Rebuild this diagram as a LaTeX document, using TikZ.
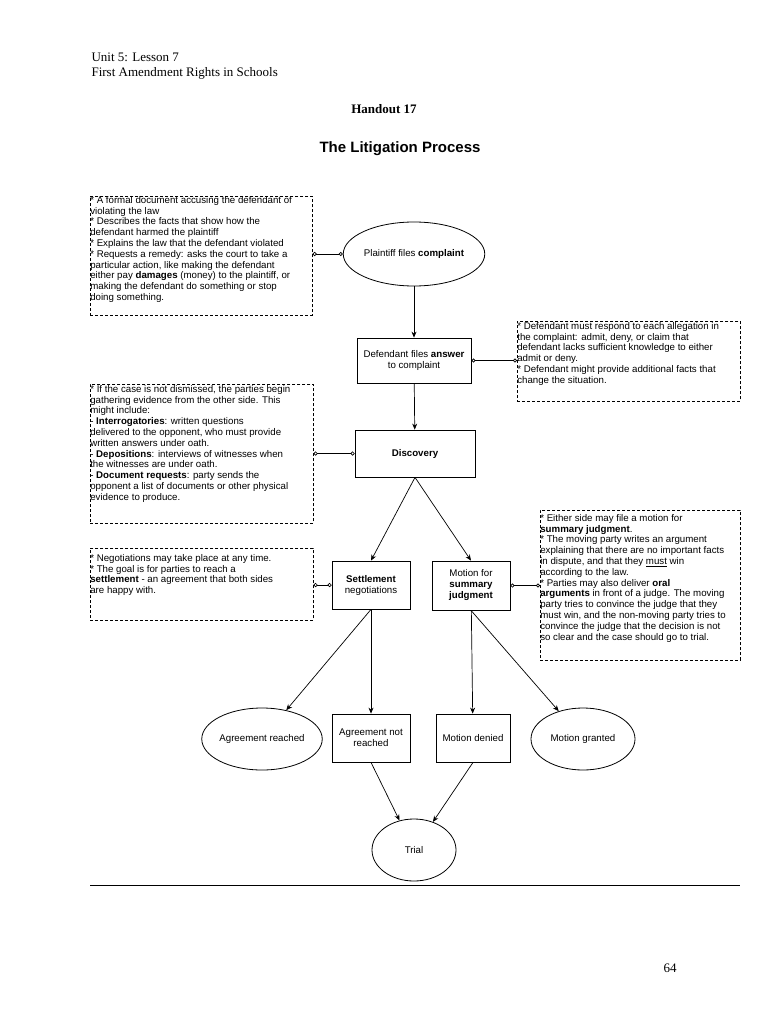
\documentclass[tikz,border=0pt]{standalone}
\usepackage{fontspec}
\setmainfont{Liberation Serif}
\newfontfamily\dsans{Liberation Sans}
\usetikzlibrary{shapes.geometric,arrows.meta}
\newcommand\nl{\newline}
\begin{document}
\begin{tikzpicture}[x=1pt,y=-1pt,
  note/.style={draw,densely dashed,line width=0.6pt,anchor=north west,align=left,inner sep=0pt,font=\dsans\fontsize{9.7}{10.8}\selectfont},
  box/.style={draw,line width=0.8pt,align=center,font=\dsans\fontsize{9.7}{11}\selectfont},
  ell/.style={draw,ellipse,line width=0.8pt,align=center,inner sep=0pt,font=\dsans\fontsize{9.7}{11}\selectfont},
  arr/.style={-{Stealth[length=6pt,width=5pt]},line width=0.7pt},
  link/.style={{Circle[open,length=4pt]}-{Circle[open,length=4pt]},line width=0.7pt}]
\useasboundingbox (0,0) rectangle (768,1024);
\node[anchor=west,font=\fontsize{13}{15}\selectfont] (h1) at (88,57) {Unit 5: Lesson 7};
\node[anchor=west,font=\fontsize{13}{15}\selectfont] (h2) at (88,73) {First Amendment Rights in Schools};
\node[font=\bfseries\fontsize{13}{15}\selectfont] (h3) at (384,109) {Handout 17};
\node[font=\dsans\bfseries\fontsize{15}{18}\selectfont] (h4) at (400,149) {The Litigation Process};

% notes
\node[note] (n1) at (90,196) {\parbox[t][119pt][t]{222pt}{\vspace{0pt}* A formal document accusing the defendant of\nl violating the law\nl{}* Describes the facts that show how the\nl defendant harmed the plaintiff\nl{}* Explains the law that the defendant violated\nl{}* Requests a remedy: asks the court to take a\nl particular action, like making the defendant\nl either pay \textbf{damages} (money) to the plaintiff, or\nl making the defendant do something or stop\nl doing something.}};
\node[note] (n2) at (517,321) {\parbox[t][80pt][t]{223pt}{\vspace{1pt}* Defendant must respond to each allegation in\nl the complaint: admit, deny, or claim that\nl defendant lacks sufficient knowledge to either\nl admit or deny.\nl{}* Defendant might provide additional facts that\nl change the situation.}};
\node[note] (n3) at (90,384) {\parbox[t][139pt][t]{223pt}{\vspace{1pt}* If the case is not dismissed, the parties begin\nl gathering evidence from the other side. This\nl might include:\nl{}- \textbf{Interrogatories}: written questions\nl delivered to the opponent, who must provide\nl written answers under oath.\nl{}- \textbf{Depositions}: interviews of witnesses when\nl the witnesses are under oath.\nl{}- \textbf{Document requests}: party sends the\nl opponent a list of documents or other physical\nl evidence to produce.}};
\node[note] (n4) at (90,548) {\parbox[t][72pt][t]{223pt}{\vspace{6pt}* Negotiations may take place at any time.\nl{}* The goal is for parties to reach a\nl\textbf{settlement} - an agreement that both sides\nl are happy with.}};
\node[note] (n5) at (540,510) {\parbox[t][150pt][t]{200pt}{\vspace{4pt}* Either side may file a motion for\nl\textbf{summary judgment}.\nl{}* The moving party writes an argument\nl explaining that there are no important facts\nl in dispute, and that they \underline{must} win\nl according to the law.\nl{}* Parties may also deliver \textbf{oral}\nl\textbf{arguments} in front of a judge. The moving\nl party tries to convince the judge that they\nl must win, and the non-moving party tries to\nl convince the judge that the decision is not\nl so clear and the case should go to trial.}};

% flow
\node[ell,minimum width=116pt,minimum height=64pt] (c) at (414,254) {Plaintiff files \textbf{complaint}};
\node[box,minimum width=114pt,minimum height=45pt] (a) at (414,360.5) {Defendant files \textbf{answer}\\to complaint};
\node[box,minimum width=120pt,minimum height=47pt] (d) at (415,453.5) {\textbf{Discovery}};
\node[box,minimum width=78pt,minimum height=48pt] (s) at (371,585) {\textbf{Settlement}\\negotiations};
\node[box,minimum width=78pt,minimum height=49pt] (m) at (471,585.5) {Motion for\\\textbf{summary}\\\textbf{judgment}};
\node[ell,minimum width=104pt,minimum height=62pt] (ar) at (262,739) {Agreement reached};
\node[box,minimum width=78pt,minimum height=48pt] (anr) at (371,738) {Agreement not\\reached};
\node[box,minimum width=74pt,minimum height=48pt] (md) at (473,738) {Motion denied};
\node[ell,minimum width=104pt,minimum height=62pt] (mg) at (583,739) {Motion granted};
\node[ell,minimum width=84pt,minimum height=62pt] (t) at (414,850) {Trial};

\draw[arr] (c) -- (a);
\draw[arr] (a) -- (d);
\draw[arr] (d.south) -- (s.north);
\draw[arr] (d.south) -- (m.north);
\draw[arr] (s.south) -- (ar);
\draw[arr] (s) -- (anr);
\draw[arr] (m) -- (md);
\draw[arr] (m.south) -- (mg);
\draw[arr] (anr.south) -- (t);
\draw[arr] (md.south) -- (t);

\draw[link] (n1.east |- c.west) -- (c.west);
\draw[link] (a.east) -- (n2.west |- a.east);
\draw[link] (n3.east |- d.west) -- (d.west);
\draw[link] (n4.east |- s.west) -- (s.west);
\draw[link] (m.east) -- (n5.west |- m.east);

\coordinate (l1) at (90,885); \coordinate (l2) at (740,885);
\draw[line width=0.8pt] (l1) -- (l2);
\node[font=\fontsize{13}{15}\selectfont] (pg) at (670,968) {64};
\end{tikzpicture}
\end{document}
